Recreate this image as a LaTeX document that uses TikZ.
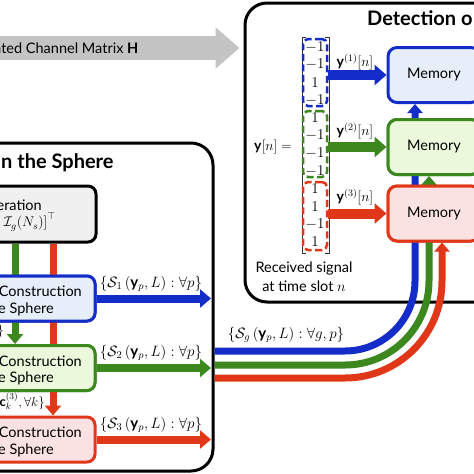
\RequirePackage{fix-cm}
\documentclass[tikz,border=0pt]{standalone}
\usepackage{fontspec}
\setmainfont{Lato}
\usetikzlibrary{arrows.meta,calc}
\definecolor{cblue}{RGB}{20,45,200}
\definecolor{cgreen}{RGB}{60,135,30}
\definecolor{cred}{RGB}{225,55,25}
\definecolor{fblue}{RGB}{230,238,250}
\definecolor{fgreen}{RGB}{236,248,220}
\definecolor{fred}{RGB}{251,226,226}
\definecolor{fgray}{RGB}{240,240,240}
\definecolor{arrowgray}{RGB}{196,196,196}
\tikzset{
 frame/.style={draw=black, line width=3pt, rounded corners=22pt, fill=white},
 gbox/.style={draw=black, line width=3pt, rounded corners=8pt, fill=fgray},
 cbox/.style={line width=3pt, rounded corners=8pt, minimum width=175pt, minimum height=45pt},
 mem/.style={line width=3pt, rounded corners=9pt, minimum width=92pt, minimum height=55pt, font=\fontsize{14.5}{16}\selectfont},
 dbox/.style={line width=2.5pt, rounded corners=5pt, dash pattern=on 7pt off 3.5pt, minimum width=24pt},
 bigarrow/.style={line width=10pt, -{Triangle[length=12pt,width=20pt]}},
 carrow/.style={line width=8pt, -{Triangle[length=11pt,width=18pt]}},
 varrow/.style={line width=7pt, -{Triangle[length=10pt,width=16pt]}},
 sline/.style={line width=7pt, -{Triangle[length=9pt,width=15pt]}},
 lbl/.style={font=\fontsize{15}{17}\selectfont, inner sep=0pt},
 ylbl/.style={font=\fontsize{14}{16}\selectfont, inner sep=0pt},
 smlbl/.style={font=\fontsize{13}{15}\selectfont, inner sep=0pt},
 txt/.style={font=\fontsize{14.5}{17}\selectfont, inner sep=0pt},
 entry/.style={font=\fontsize{15}{17}\selectfont, inner sep=0pt},
 titlefont/.style={font=\fontsize{20}{24}\selectfont\bfseries, inner sep=0pt},
 bracket/.style={line width=0.8pt, draw=black!80},
}
\begin{document}
\begin{tikzpicture}[x=1pt,y=-1pt]
\useasboundingbox (0,0) rectangle (474,474);
\clip (0,0) rectangle (474,474);

% frames
\node[frame, minimum width=265pt, minimum height=299pt] (det) at (377.5,152.5) {};
\node[frame, minimum width=253pt, minimum height=328pt] (sph) at (86.5,307) {};
\node[titlefont, anchor=base west] (dett) at (367,25) {Detection o};
\node[titlefont, anchor=base west] (spht) at (1,168) {n the Sphere};

% gray input arrow
\coordinate (hin) at (-10,48);
\coordinate (hy) at (0,48);
\draw[line width=24pt, arrowgray, -{Triangle[length=24pt,width=40pt]}] (hin) -- ([xshift=-4pt]det.west |- hy);
\node[txt, anchor=base west] (ht) at (-6,53) {ated Channel Matrix $\mathbf{H}$};

% long lines S_g to memories
\coordinate (yb) at (0,351);
\coordinate (yg) at (0,365);
\coordinate (yr) at (0,378);
\coordinate (xb) at (415,0);
\coordinate (xg) at (429,0);
\coordinate (xr) at (442,0);
\node[mem, draw=cblue, fill=fblue] (mb) at (434,75) {Memory};
\node[mem, draw=cgreen, fill=fgreen] (mg) at (434,147) {Memory};
\node[mem, draw=cred, fill=fred] (mr) at (434,213.5) {Memory};
\draw[sline, cblue, rounded corners=70pt] (sph.east |- yb) -- (xb |- yb) -- (mb.south -| xb);
\draw[sline, cgreen, rounded corners=84pt] (sph.east |- yg) -- (xg |- yg) -- (mg.south -| xg);
\draw[sline, cred, rounded corners=97pt] (sph.east |- yr) -- (xr |- yr) -- (mr.south -| xr);
\node[mem, draw=cgreen, fill=fgreen] at (mg) {Memory};
\node[mem, draw=cred, fill=fred] at (mr) {Memory};
\node[lbl] (sg) at (286,335) {$\{\mathcal{S}_g\left(\mathbf{y}_p,L\right):\forall g,p\}$};

% left side boxes
\node[gbox, minimum width=156pt, minimum height=56pt] (gen) at (18,214) {};
\node[cbox, draw=cblue, fill=fblue] (cb) at (7.5,298.5) {};
\node[cbox, draw=cgreen, fill=fgreen] (cg) at (7.5,368) {};
\node[cbox, draw=cred, fill=fred] (cr) at (7.5,439.5) {};
\coordinate (xv2) at (15,0);
\coordinate (xv3) at (53,0);
\draw[varrow, cgreen] (gen.south -| xv2) -- (cg.north -| xv2);
\draw[varrow, cred] (gen.south -| xv3) -- (cr.north -| xv3);
\node[cbox, draw=cblue, fill=fblue] at (cb) {};
\node[cbox, draw=cgreen, fill=fgreen] at (cg) {};

\node[txt, anchor=base east] (gt1) at (42,210) {eration};
\node[ylbl, anchor=east] (gt2) at (56,222) {$,\mathcal{I}_g(N_s)\big]^{\top}$};
\node[txt, anchor=base east] (cbt1) at (82,296.5) {Construction};
\node[txt, anchor=base east] (cbt2) at (54,313) {e Sphere};
\node[txt, anchor=base east] (cgt1) at (82,366) {Construction};
\node[txt, anchor=base east] (cgt2) at (54,382.5) {e Sphere};
\node[txt, anchor=base east] (crt1) at (82,437.5) {Construction};
\node[txt, anchor=base east] (crt2) at (54,454) {e Sphere};
\node[smlbl, anchor=east] (c2) at (4,331) {$\}$};
\node[smlbl, anchor=east] (c3) at (45,401) {$\mathbf{c}_k^{(3)},\forall k\}$};

% construction outputs
\coordinate (ex) at (211,0);
\draw[carrow, cblue] (cb.east) -- (cb.east -| ex);
\draw[carrow, cgreen] (cg.east) -- (cg.east -| ex);
\draw[carrow, cred] (cr.east) -- (cr.east -| ex);
\node[lbl] (s1) at (151,284) {$\{\mathcal{S}_1\left(\mathbf{y}_p,L\right):\forall p\}$};
\node[lbl] (s2) at (151,353) {$\{\mathcal{S}_2\left(\mathbf{y}_p,L\right):\forall p\}$};
\node[lbl] (s3) at (151,425) {$\{\mathcal{S}_3\left(\mathbf{y}_p,L\right):\forall p\}$};

% received vector
\draw[bracket] (306,37) -- (302,37) -- (302,253) -- (306,253);
\draw[bracket] (325,37) -- (329,37) -- (329,253) -- (325,253);
\foreach \v [count=\i from 0] in {-1,-1,1,-1,1,-1,-1,-1,1,1,-1,1}
  \node[entry] (e\i) at (315,47+17.7*\i) {$\v$};
\node[dbox, draw=cblue, minimum height=67pt] (g1) at (315,72.5) {};
\node[dbox, draw=cgreen, minimum height=66pt] (g2) at (315,144) {};
\node[dbox, draw=cred, minimum height=68pt] (g3) at (315,216) {};
\node[ylbl] (yn) at (273,147) {$\mathbf{y}[n]=$};
\draw[bigarrow, cblue] (mb.west -| g1.east) -- (mb.west);
\draw[bigarrow, cgreen] (mg.west -| g2.east) -- (mg.west);
\draw[bigarrow, cred] (mr.west -| g3.east) -- (mr.west);
\node[ylbl] (y1) at (355,62) {$\mathbf{y}^{(1)}[n]$};
\node[ylbl] (y2) at (355,131) {$\mathbf{y}^{(2)}[n]$};
\node[ylbl] (y3) at (355,197) {$\mathbf{y}^{(3)}[n]$};
\node[txt, align=center, font=\fontsize{14.5}{19}\selectfont] (rs) at (304,277) {Received signal\\at time slot $n$};
\end{tikzpicture}
\end{document}
